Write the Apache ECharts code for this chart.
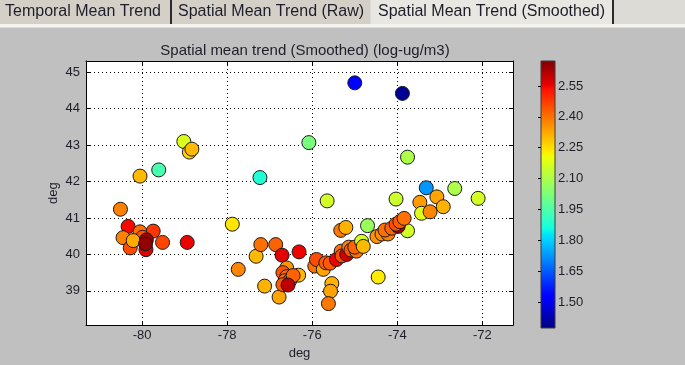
<!DOCTYPE html>
<html><head><meta charset="utf-8">
<script src="https://cdn.jsdelivr.net/npm/echarts@6/dist/echarts.min.js"></script>
<style>html,body{margin:0;padding:0;background:#c0c0c0;}#c{width:685px;height:365px;}</style>
</head><body><div id="c"></div>
<script>
const tabLabels = ['Temporal Mean Trend', 'Spatial Mean Trend (Raw)', 'Spatial Mean Trend (Smoothed)'];
const titleText = 'Spatial mean trend (Smoothed) (log-ug/m3)';
const xName = 'deg';
const yName = 'deg';
const xRange = [-81.32, -71.28];
const yRange = [38.06, 45.31];
const cRange = [1.375, 2.671];

const lon = [
  -75.00, -73.88, -79.02, -78.89, -78.83, -79.61, -80.05, -76.08, -77.23, -75.65,
  -73.76, -73.32, -72.65, -72.10, -74.03, -73.47, -73.07, -73.43, -73.23, -72.92,
  -73.76, -74.45, -74.70, -77.88, -77.74,
  -80.51, -80.33, -80.45, -80.28, -80.05, -79.74, -79.99, -79.52, -78.94, -79.91, -80.21, -79.90, -79.92,
  -77.32, -77.21, -76.86, -76.71, -76.31, -77.12, -76.78, -76.32, -76.60, -76.69, -76.60, -76.64, -76.53, -76.45, -76.69, -76.57,
  -75.54, -75.57, -75.62,
  -75.94, -75.90, -75.74, -75.68, -75.58, -75.43, -75.32, -75.30, -75.19, -75.14, -75.09, -74.96, -75.00, -74.84, -74.80,
  -75.33, -75.21, -74.48, -74.36, -74.22, -74.29, -74.13, -73.98, -74.03, -73.94, -73.84
];
const lat = [
  44.71, 44.42, 43.10, 42.81, 42.89, 42.32, 42.15, 43.07, 42.11, 41.47,
  42.67, 41.83, 41.81, 41.54, 41.52, 41.43, 41.58, 41.13, 41.17, 41.31,
  40.65, 39.38, 40.79, 40.83, 39.59,
  41.24, 40.77, 40.46, 40.18, 40.62, 40.64, 40.47, 40.33, 40.33, 40.13, 40.38, 40.40, 40.29,
  39.95, 40.27, 40.27, 39.98, 40.07, 39.13, 38.83, 39.43, 39.63, 39.50, 39.39, 39.28, 39.28, 39.42, 39.17, 39.16,
  39.20, 38.99, 38.65,
  39.68, 39.86, 39.59, 39.77, 39.76, 39.86, 40.09, 39.96, 40.00, 40.20, 40.12, 40.09, 40.20, 40.36, 40.22,
  40.66, 40.74, 40.49, 40.56, 40.56, 40.67, 40.72, 40.77, 40.83, 40.90, 40.99
];
const val = [
  1.53, 1.40, 2.17, 2.26, 2.30, 1.94, 2.30, 2.02, 1.88, 2.16,
  2.10, 1.73, 2.10, 2.16, 2.15, 2.34, 2.33, 2.18, 2.37, 2.31,
  2.16, 2.23, 2.07, 2.24, 2.37,
  2.38, 2.54, 2.38, 2.45, 2.40, 2.48, 2.44, 2.46, 2.55, 2.56, 2.32, 2.63, 2.65,
  2.30, 2.40, 2.42, 2.56, 2.55, 2.31, 2.33, 2.30, 2.35, 2.44, 2.41, 2.40, 2.45, 2.42, 2.43, 2.60,
  2.31, 2.33, 2.39,
  2.40, 2.45, 2.33, 2.43, 2.43, 2.55, 2.40, 2.45, 2.58, 2.38, 2.44, 2.40, 2.42, 2.16, 2.30,
  2.39, 2.31, 2.35, 2.36, 2.38, 2.40, 2.42, 2.62, 2.45, 2.43, 2.40
];

const FONT = "'Liberation Sans', Arial, sans-serif";
const TXT = '#1e1e2a';

function interp(t, pts) {
  for (let i = 1; i < pts.length; i++) {
    if (t <= pts[i][0]) {
      const a = pts[i - 1], b = pts[i];
      return a[1] + (b[1] - a[1]) * (t - a[0]) / (b[0] - a[0]);
    }
  }
  return pts[pts.length - 1][1];
}
function jet(t) {
  const r = interp(t, [[0,0],[0.35,0],[0.66,1],[0.89,1],[1,0.5]]);
  const g = interp(t, [[0,0],[0.125,0],[0.375,1],[0.64,1],[0.91,0],[1,0]]);
  const b = interp(t, [[0,0.5],[0.11,1],[0.34,1],[0.65,0],[1,0]]);
  return 'rgb(' + Math.round(r*255) + ',' + Math.round(g*255) + ',' + Math.round(b*255) + ')';
}
const jetColors = [];
const jetStops = [];
for (let i = 0; i <= 100; i++) { jetColors.push(jet(i / 100)); jetStops.push({offset: i / 100, color: jet(i / 100)}); }

const data = lon.map((x, i) => [x, lat[i], val[i]]);

const chart = echarts.init(document.getElementById('c'), null, {renderer: 'canvas'});

const dotted = {color: '#000', width: 1, type: [1, 3]};

chart.setOption({
  animation: false,
  backgroundColor: '#c0c0c0',
  title: {
    text: titleText, left: 300, top: 38, textAlign: 'center',
    textStyle: {fontSize: 15, fontWeight: 'normal', color: TXT, fontFamily: FONT}
  },
  graphic: [
    {type: 'rect', shape: {x: 0, y: 0, width: 685, height: 28}, style: {fill: '#dddbd6'}, z: -10},
    {type: 'rect', shape: {x: 0, y: 0, width: 171, height: 24}, style: {fill: '#d4d0c8'}, z: -9},
    {type: 'rect', shape: {x: 172, y: 0, width: 198, height: 24}, style: {fill: '#d4d0c8'}, z: -9},
    {type: 'rect', shape: {x: 371, y: 0, width: 242, height: 26}, style: {fill: '#e9e7e2'}, z: -9},
    {type: 'rect', shape: {x: 0, y: 24, width: 685, height: 3}, style: {fill: '#f4f3f0'}, z: -8},
    {type: 'rect', shape: {x: 170, y: 0, width: 2, height: 24}, style: {fill: '#2a2a2a'}, z: -7},
    {type: 'rect', shape: {x: 612, y: 0, width: 2, height: 24}, style: {fill: '#2a2a2a'}, z: -7},
    {type: 'rect', shape: {x: 0, y: 28, width: 685, height: 337}, style: {fill: '#c0c0c0'}, z: -8},
    {type: 'text', x: 5, y: 12, style: {text: tabLabels[0], font: '16px ' + FONT, fill: TXT, verticalAlign: 'middle'}},
    {type: 'text', x: 178, y: 12, style: {text: tabLabels[1], font: '16px ' + FONT, fill: TXT, verticalAlign: 'middle'}},
    {type: 'text', x: 378, y: 12, style: {text: tabLabels[2], font: '16px ' + FONT, fill: TXT, verticalAlign: 'middle'}}
  ],
  grid: [
    {left: 86, top: 61, width: 427, height: 267, show: true, backgroundColor: '#ffffff', borderWidth: 0},
    {left: 541, top: 61, width: 14, height: 267, show: true, borderColor: '#3a3a3a', borderWidth: 1,
     backgroundColor: new echarts.graphic.LinearGradient(0, 1, 0, 0, jetStops)}
  ],
  xAxis: [
    {type: 'value', gridIndex: 0, position: 'bottom', min: xRange[0], max: xRange[1], minInterval: 2, maxInterval: 2,
     name: xName, nameLocation: 'middle', nameGap: 19,
     nameTextStyle: {fontSize: 13, color: TXT, fontFamily: FONT},
     axisLine: {show: true, onZero: false, lineStyle: {color: '#000', width: 1}},
     axisTick: {show: true, inside: true, length: 4, lineStyle: {color: '#000'}},
     axisLabel: {show: true, margin: 4, fontSize: 13, color: TXT, fontFamily: FONT, showMinLabel: false, showMaxLabel: false},
     splitLine: {show: true, lineStyle: dotted}},
    {type: 'value', gridIndex: 0, position: 'top', min: xRange[0], max: xRange[1], minInterval: 2, maxInterval: 2,
     axisLine: {show: true, onZero: false, lineStyle: {color: '#000', width: 1}},
     axisTick: {show: true, inside: true, length: 4, lineStyle: {color: '#000'}},
     axisLabel: {show: false}, splitLine: {show: false}},
    {type: 'value', gridIndex: 1, show: false, min: 0, max: 1}
  ],
  yAxis: [
    {type: 'value', gridIndex: 0, position: 'left', min: yRange[0], max: yRange[1], minInterval: 1, maxInterval: 1,
     name: yName, nameLocation: 'middle', nameGap: 26, nameMoveOverlap: false,
     nameTextStyle: {fontSize: 13, color: TXT, fontFamily: FONT},
     axisLine: {show: true, onZero: false, lineStyle: {color: '#000', width: 1}},
     axisTick: {show: true, inside: true, length: 4, lineStyle: {color: '#000'}},
     axisLabel: {show: true, margin: 6, fontSize: 13, color: TXT, fontFamily: FONT, showMinLabel: false, showMaxLabel: false},
     splitLine: {show: true, lineStyle: dotted}},
    {type: 'value', gridIndex: 0, position: 'right', min: yRange[0], max: yRange[1], minInterval: 1, maxInterval: 1,
     axisLine: {show: true, onZero: false, lineStyle: {color: '#000', width: 1}},
     axisTick: {show: true, inside: true, length: 4, lineStyle: {color: '#000'}},
     axisLabel: {show: false}, splitLine: {show: false}},
    {type: 'value', gridIndex: 1, position: 'right', min: cRange[0], max: cRange[1], minInterval: 0.15, maxInterval: 0.15,
     axisLine: {show: false},
     axisTick: {show: true, inside: true, length: 3, lineStyle: {color: '#000'}},
     axisLabel: {show: true, margin: 3, fontSize: 13, color: TXT, fontFamily: FONT, showMinLabel: false, showMaxLabel: false,
                 formatter: v => v.toFixed(2)},
     splitLine: {show: false}}
  ],
  visualMap: {
    type: 'continuous', show: false, min: cRange[0], max: cRange[1], dimension: 2, seriesIndex: 0,
    inRange: {color: jetColors}
  },
  series: [{
    type: 'scatter', xAxisIndex: 0, yAxisIndex: 0, data: data, symbolSize: 14,
    itemStyle: {borderColor: '#1a1a1a', borderWidth: 1, opacity: 1},
    emphasis: {disabled: true}
  }]
});
</script></body></html>
